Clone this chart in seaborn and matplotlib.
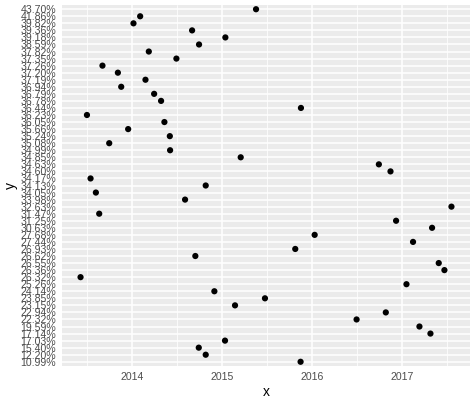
import matplotlib
matplotlib.use("Agg")
import matplotlib.pyplot as plt
from matplotlib.ticker import MultipleLocator
import pandas as pd
import seaborn as sns

# y categories, read top to bottom
y_labels = [
    "43.70%", "41.86%", "39.82%", "39.36%", "39.18%", "38.59%", "37.82%",
    "37.35%", "37.26%", "37.20%", "37.19%", "36.94%", "36.79%", "36.78%",
    "36.44%", "36.23%", "36.05%", "35.66%", "35.24%", "35.08%", "34.99%",
    "34.85%", "34.63%", "34.60%", "34.17%", "34.13%", "34.05%", "33.98%",
    "32.63%", "31.47%", "31.25%", "30.63%", "27.68%", "27.44%", "26.93%",
    "26.62%", "26.55%", "26.36%", "26.32%", "25.26%", "24.14%", "23.85%",
    "23.15%", "22.94%", "22.32%", "19.59%", "17.14%", "17.03%", "15.40%",
    "12.20%", "10.99%",
]

# x as decimal year, same order as y_labels
x_years = [
    2015.377, 2014.092, 2014.018, 2014.668, 2015.037, 2014.745, 2014.188,
    2014.494, 2013.674, 2013.845, 2014.151, 2013.882, 2014.247, 2014.324,
    2015.875, 2013.502, 2014.361, 2013.959, 2014.421, 2013.749, 2014.424,
    2015.207, 2016.739, 2016.868, 2013.542, 2014.819, 2013.601, 2014.590,
    2017.544, 2013.638, 2016.930, 2017.329, 2016.027, 2017.118, 2015.812,
    2014.704, 2017.403, 2017.466, 2013.431, 2017.045, 2014.915, 2015.476,
    2015.144, 2016.816, 2016.492, 2017.189, 2017.311, 2015.033, 2014.742,
    2014.819, 2015.871,
]

df = pd.DataFrame({"x": x_years, "y": y_labels})
# factor order like ggplot: lowest level at the bottom
df["val"] = df["y"].str.rstrip("%").astype(float)
df = df.sort_values("val").reset_index(drop=True)

sns.set_style("darkgrid", {"axes.facecolor": "#EBEBEB", "grid.color": "white"})
plt.rcParams["font.family"] = ["Liberation Sans", "DejaVu Sans"]

fig = plt.figure(figsize=(4.74, 4.0), dpi=100)
ax = fig.add_axes([62 / 474, 1 - 366 / 400, 408 / 474, 361 / 400])

sns.scatterplot(data=df, x="x", y="y", color="black", s=20,
                edgecolor="none", linewidth=0, ax=ax, zorder=3)

ax.set_ylim(-0.6, len(df) - 0.4)
ax.margins(x=0.05)
ax.xaxis.set_major_locator(MultipleLocator(1))
ax.xaxis.set_minor_locator(MultipleLocator(0.5))
ax.xaxis.set_major_formatter(matplotlib.ticker.FormatStrFormatter("%d"))

ax.grid(which="major", color="white", linewidth=1.1)
ax.grid(which="minor", axis="x", color="white", linewidth=0.55)
ax.set_axisbelow(True)
for sp in ax.spines.values():
    sp.set_visible(False)

ax.tick_params(axis="both", which="major", length=2.7, width=0.5,
               color="#333333", labelcolor="#4D4D4D", labelsize=7.6, pad=1.5)
ax.tick_params(axis="x", which="minor", length=0)

ax.set_xlabel("x", fontsize=10, color="black")
ax.set_ylabel("y", fontsize=10, color="black")
ax.xaxis.set_label_coords(0.5, -0.052)
ax.yaxis.set_label_coords(-0.108, 0.5)

fig.savefig("out.png", dpi=100)
